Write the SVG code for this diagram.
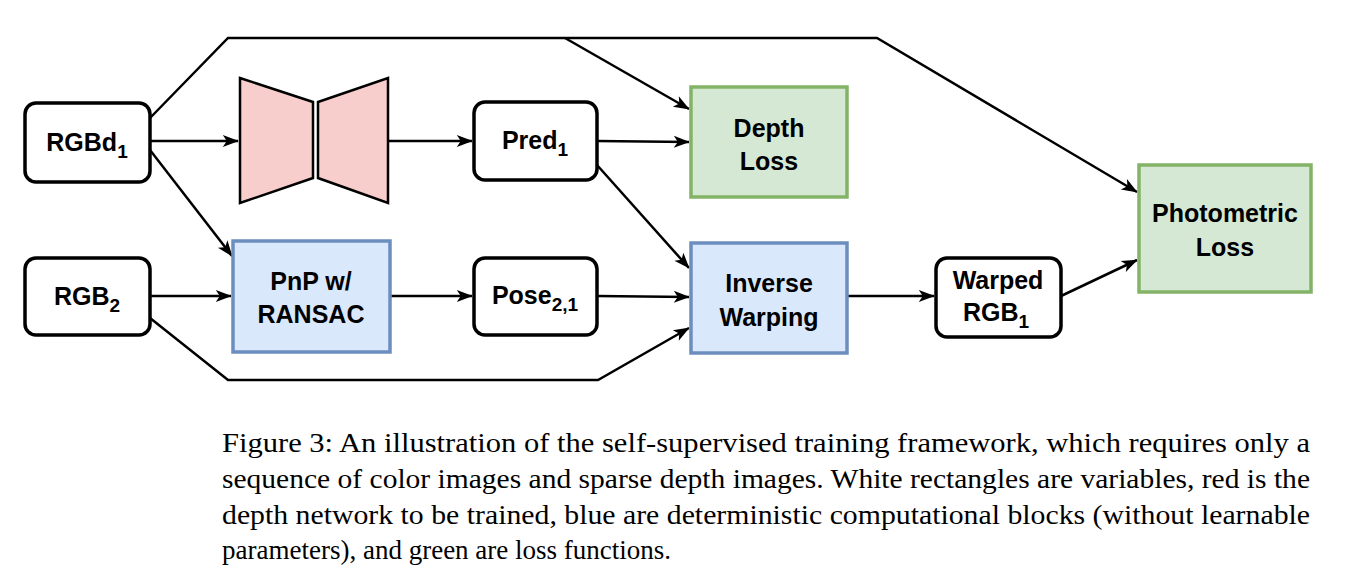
<svg xmlns="http://www.w3.org/2000/svg" width="1347" height="573" viewBox="0 0 1347 573">
<style>
.v{fill:#fff;stroke:#000;stroke-width:3.5}
.b{fill:#dae8fc;stroke:#6c8ebf;stroke-width:3.5}
.g{fill:#d5e8d4;stroke:#82b366;stroke-width:3.5}
.r{fill:#f8cecc;stroke:#000;stroke-width:2.5}
.t{font-family:"Liberation Sans",Arial,sans-serif;font-weight:bold;font-size:25px;text-anchor:middle}
.s{font-size:19px}
.c{fill:none;stroke:#000;stroke-width:2.5}
.cap{font-family:"Liberation Serif","Times New Roman",serif;font-size:27px}
</style>
<defs>
<marker id="a" viewBox="0 0 10 10" refX="9" refY="5" markerWidth="8" markerHeight="8" markerUnits="userSpaceOnUse" orient="auto" overflow="visible">
<path d="M-6,-1 L10,5 L-6,11 L-2,5 Z" transform="scale(1.25) translate(-2,-1)" fill="#000"/>
</marker>
</defs>
<rect width="1347" height="573" fill="#fff"/>
<g id="connectors" class="c" marker-end="url(#a)">
<path d="M150,118 L228,38 L877,38 L1137,192" />
<path d="M565,38 L689,109" />
<path d="M150,141 L238,141" />
<path d="M388,141 L472,141" />
<path d="M597,141 L689,142" />
<path d="M150,150 L232,256" />
<path d="M150,296 L231,296" />
<path d="M390,296 L472,296" />
<path d="M597,296 L689,297" />
<path d="M597,165 L689,268" />
<path d="M150,318 L228,380 L598,380 L689,328" />
<path d="M847,296 L934,296" />
<path d="M1061,296 L1137,260" />
</g>
<g id="rgbd1"><rect class="v" x="25" y="103" width="125" height="79" rx="11"/><text class="t" x="87" y="151">RGBd<tspan class="s" dy="7">1</tspan></text></g>
<g id="rgb2"><rect class="v" x="25" y="258" width="125" height="77" rx="11"/><text class="t" x="87" y="305">RGB<tspan class="s" dy="7">2</tspan></text></g>
<g id="net"><polygon class="r" points="240,78 313,102 313,178 240,203"/><polygon class="r" points="318,102 388,78 388,203 318,178"/></g>
<g id="pred1"><rect class="v" x="474" y="102" width="123" height="78" rx="11"/><text class="t" x="535" y="149">Pred<tspan class="s" dy="7">1</tspan></text></g>
<g id="pnp"><rect class="b" x="233" y="241" width="157" height="111"/><text class="t" x="311" y="290">PnP w/</text><text class="t" x="311" y="323">RANSAC</text></g>
<g id="pose"><rect class="v" x="474" y="258" width="123" height="77" rx="11"/><text class="t" x="535" y="304">Pose<tspan class="s" dy="7">2,1</tspan></text></g>
<g id="depthloss"><rect class="g" x="691" y="87" width="156" height="110"/><text class="t" x="769" y="137">Depth</text><text class="t" x="769" y="170">Loss</text></g>
<g id="invwarp"><rect class="b" x="691" y="243" width="156" height="110"/><text class="t" x="769" y="292">Inverse</text><text class="t" x="769" y="326">Warping</text></g>
<g id="warped"><rect class="v" x="936" y="258" width="125" height="79" rx="11"/><text class="t" x="998" y="289">Warped</text><text class="t" x="996" y="321">RGB<tspan class="s" dy="7">1</tspan></text></g>
<g id="photo"><rect class="g" x="1139" y="165" width="172" height="127"/><text class="t" x="1225" y="222">Photometric</text><text class="t" x="1225" y="256">Loss</text></g>
<g id="caption" class="cap">
<text x="222" y="452" textLength="1088" lengthAdjust="spacingAndGlyphs">Figure 3: An illustration of the self-supervised training framework, which requires only a</text>
<text x="222" y="488" textLength="1088" lengthAdjust="spacingAndGlyphs">sequence of color images and sparse depth images. White rectangles are variables, red is the</text>
<text x="222" y="524" textLength="1088" lengthAdjust="spacingAndGlyphs">depth network to be trained, blue are deterministic computational blocks (without learnable</text>
<text x="222" y="559">parameters), and green are loss functions.</text>
</g>
</svg>
